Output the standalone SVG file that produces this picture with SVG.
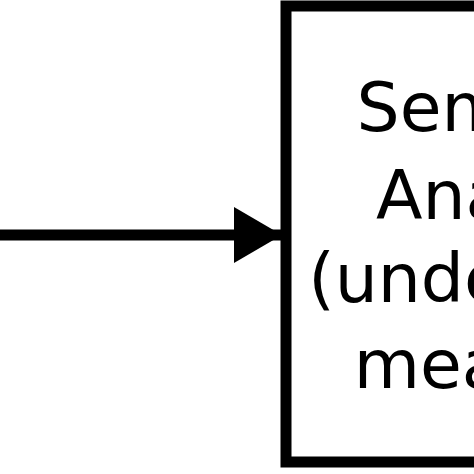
<svg xmlns="http://www.w3.org/2000/svg" width="474" height="474" viewBox="0 0 474 474">
<style>
.box{fill:#fff;stroke:#000;stroke-width:11}
.lbl{font-family:"DejaVu Sans",sans-serif;font-size:68px;fill:#000;text-anchor:middle}
.edge{stroke:#000;stroke-width:11;fill:none}
</style>
<defs>
<marker id="arr" markerUnits="userSpaceOnUse" markerWidth="50" markerHeight="56" refX="48" refY="28" orient="auto">
<path d="M0,0 L48,28 L0,56 Z" fill="#000"/>
</marker>
</defs>
<rect width="474" height="474" fill="#fff"/>
<g id="connectors">
<line class="edge" x1="0" y1="235" x2="282" y2="235" marker-end="url(#arr)"/>
</g>
<g id="node-semantic">
<rect class="box" x="286" y="6" width="460" height="456"/>
<text class="lbl" x="516" y="131">Semantic</text>
<text class="lbl" x="516" y="219">Analysis</text>
<text class="lbl" x="516" y="302">(understand</text>
<text class="lbl" x="516" y="388">meaning)</text>
</g>
</svg>
